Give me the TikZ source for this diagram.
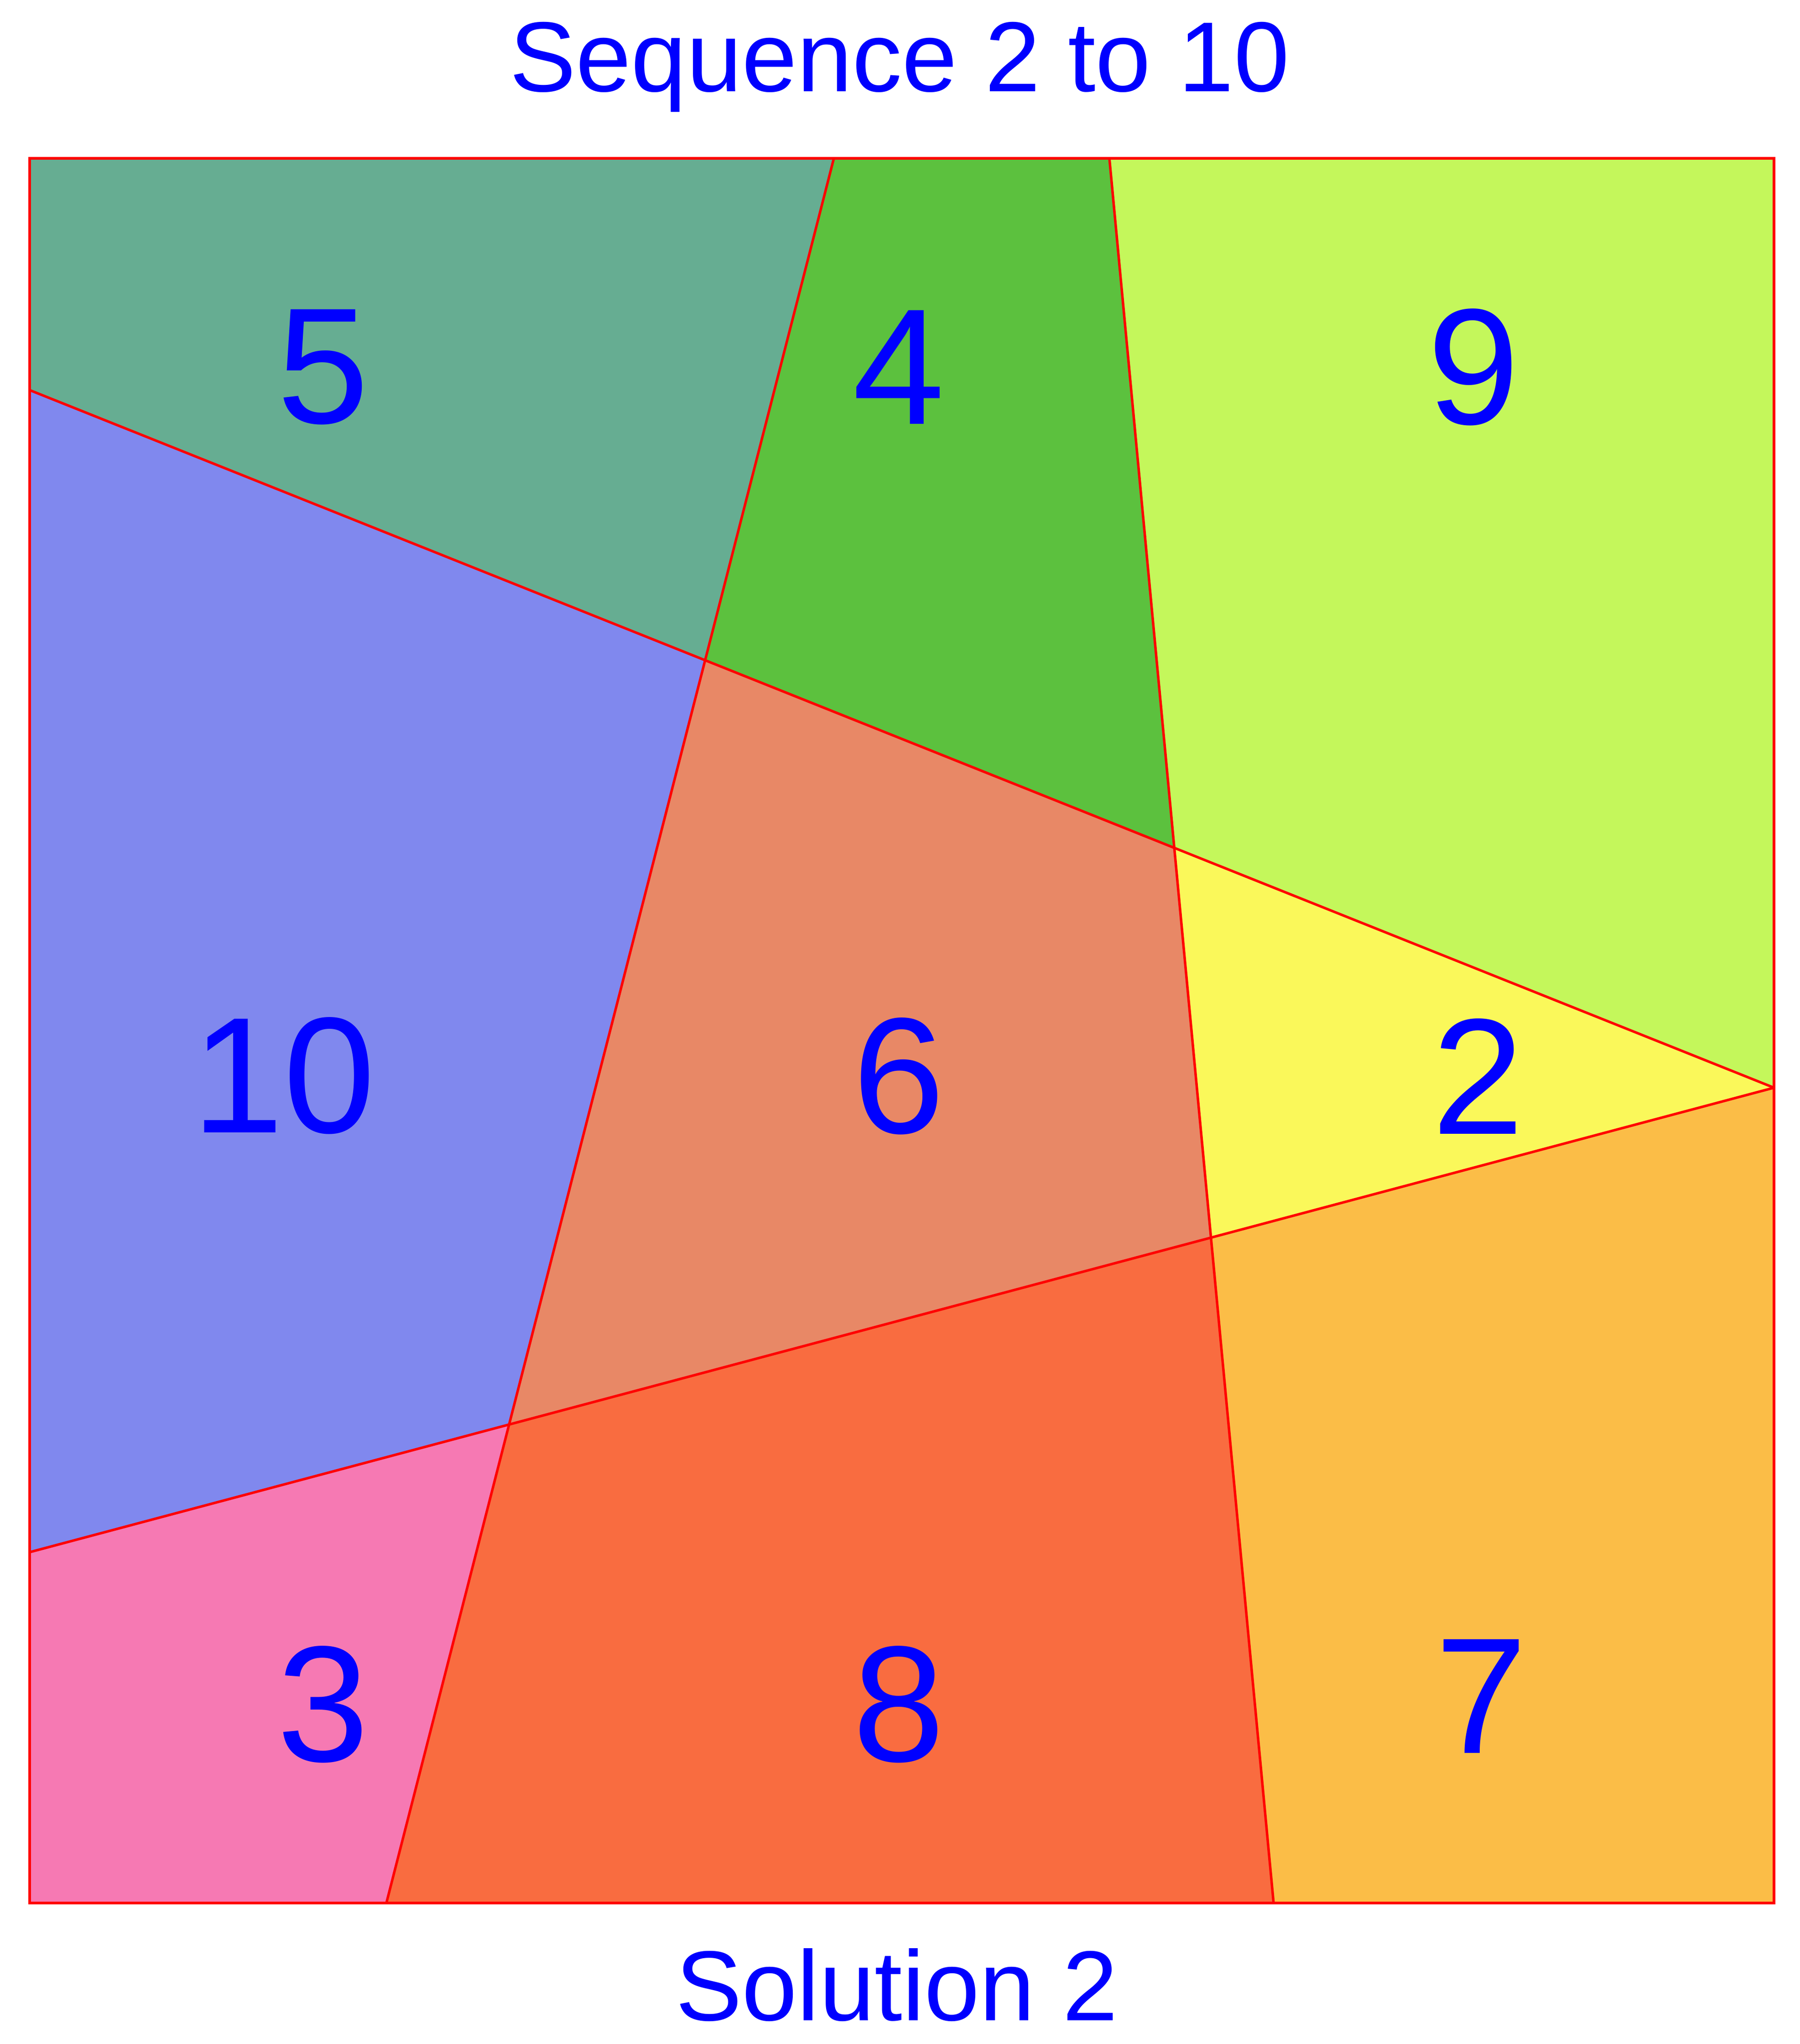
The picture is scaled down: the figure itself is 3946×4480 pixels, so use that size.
\documentclass[tikz,border=0pt]{standalone}
\usepackage{fontspec}
\setmainfont{Liberation Sans}
\definecolor{cFive}{RGB}{102,173,146}
\definecolor{cFour}{RGB}{92,193,62}
\definecolor{cNine}{RGB}{196,247,91}
\definecolor{cTen}{RGB}{128,136,238}
\definecolor{cSix}{RGB}{232,136,102}
\definecolor{cTwo}{RGB}{250,248,90}
\definecolor{cThree}{RGB}{246,121,179}
\definecolor{cEight}{RGB}{249,108,64}
\definecolor{cSeven}{RGB}{251,189,71}
\tikzset{
  cutline/.style={draw=red, line width=0.055cm},
  digit/.style={text=blue, inner sep=0pt, font=\fontsize{103}{110}\selectfont},
  caption/.style={text=blue, inner sep=0pt, anchor=base, font=\fontsize{62}{70}\selectfont}
}
\begin{document}
\begin{tikzpicture}[x=0.01cm, y=-0.01cm]
\useasboundingbox (0,0) rectangle (3946,4480);
% frame corners
\coordinate (TL) at (65,347);
\coordinate (TR) at (3889,347);
\coordinate (BR) at (3889,4171);
\coordinate (BL) at (65,4171);
% line end points
\coordinate (A1) at (65,855);
\coordinate (R)  at (3889,2384);
\coordinate (B1) at (1828,347);
\coordinate (B2) at (847,4171);
\coordinate (C1) at (2432,347);
\coordinate (C2) at (2792,4171);
\coordinate (D1) at (65,3402);
% intersections
\coordinate (PAB) at (intersection of A1--R and B1--B2);
\coordinate (PAC) at (intersection of A1--R and C1--C2);
\coordinate (PDB) at (intersection of D1--R and B1--B2);
\coordinate (PDC) at (intersection of D1--R and C1--C2);
% regions
\fill[cFive]  (TL) -- (B1) -- (PAB) -- (A1) -- cycle;
\fill[cFour]  (B1) -- (C1) -- (PAC) -- (PAB) -- cycle;
\fill[cNine]  (C1) -- (TR) -- (R) -- (PAC) -- cycle;
\fill[cTen]   (A1) -- (PAB) -- (PDB) -- (D1) -- cycle;
\fill[cSix]   (PAB) -- (PAC) -- (PDC) -- (PDB) -- cycle;
\fill[cTwo]   (PAC) -- (R) -- (PDC) -- cycle;
\fill[cThree] (D1) -- (PDB) -- (B2) -- (BL) -- cycle;
\fill[cEight] (PDB) -- (PDC) -- (C2) -- (B2) -- cycle;
\fill[cSeven] (PDC) -- (R) -- (BR) -- (C2) -- cycle;
% cut lines
\draw[cutline] (A1) -- (R);
\draw[cutline] (D1) -- (R);
\draw[cutline] (B1) -- (B2);
\draw[cutline] (C1) -- (C2);
\draw[cutline, line join=miter] (TL) -- (TR) -- (BR) -- (BL) -- cycle;
% numbers
\node[digit] (n5)  at (708,805)   {5};
\node[digit] (n4)  at (1970,805)  {4};
\node[digit] (n9)  at (3230,805)  {9};
\node[digit] (n10) at (622,2358)  {10};
\node[digit] (n6)  at (1970,2359) {6};
\node[digit] (n2)  at (3240,2359) {2};
\node[digit] (n3)  at (708,3736)  {3};
\node[digit] (n8)  at (1970,3736) {8};
\node[digit] (n7)  at (3247,3718) {7};
% captions
\node[caption] (title) at (1972,200)  {Sequence 2 to 10};
\node[caption] (sol)   at (1966,4428) {Solution 2};
\end{tikzpicture}
\end{document}
